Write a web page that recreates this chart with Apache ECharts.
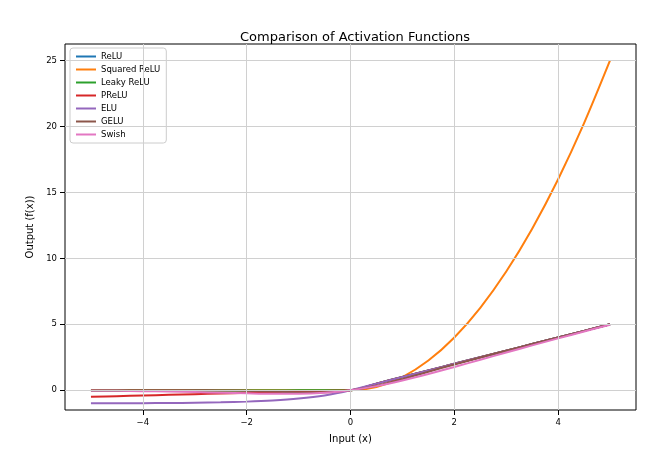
<!DOCTYPE html>
<html>
<head>
<meta charset="utf-8">
<script src="https://cdn.jsdelivr.net/npm/echarts@6/dist/echarts.min.js"></script>
<style>html,body{margin:0;padding:0;background:#fff}#chart{width:664px;height:464px}</style>
</head>
<body>
<div id="chart"></div>
<script>
var xs = [-5,-4.5,-4,-3.5,-3,-2.5,-2,-1.5,-1,-0.5,0,0.5,1,1.5,2,2.5,3,3.5,4,4.5,5];
var relu = [0,0,0,0,0,0,0,0,0,0,0,0.5,1,1.5,2,2.5,3,3.5,4,4.5,5];
var squaredRelu = [0,0,0,0,0,0,0,0,0,0,0,0.25,1,2.25,4,6.25,9,12.25,16,20.25,25];
var leakyRelu = [-0.05,-0.045,-0.04,-0.035,-0.03,-0.025,-0.02,-0.015,-0.01,-0.005,0,0.5,1,1.5,2,2.5,3,3.5,4,4.5,5];
var prelu = [-0.5,-0.45,-0.4,-0.35,-0.3,-0.25,-0.2,-0.15,-0.1,-0.05,0,0.5,1,1.5,2,2.5,3,3.5,4,4.5,5];
var elu = [-0.993,-0.989,-0.982,-0.970,-0.950,-0.918,-0.865,-0.777,-0.632,-0.393,0,0.5,1,1.5,2,2.5,3,3.5,4,4.5,5];
var gelu = [0,0,-0.0001,-0.0008,-0.004,-0.0155,-0.0455,-0.1002,-0.1587,-0.1543,0,0.3457,0.8413,1.3998,1.9545,2.4845,2.996,3.4992,4,4.5,5];
var swish = [-0.0335,-0.0498,-0.0719,-0.1017,-0.1423,-0.1896,-0.2384,-0.2736,-0.2689,-0.1888,0,0.3112,0.7311,1.2264,1.7616,2.3104,2.8577,3.3983,3.9281,4.4502,4.9665];
var xTicks = [-4,-2,0,2,4];
var yTicks = [0,5,10,15,20,25];

var names = ['ReLU','Squared ReLU','Leaky ReLU','PReLU','ELU','GELU','Swish'];
var values = [relu, squaredRelu, leakyRelu, prelu, elu, gelu, swish];
var colors = ['#1f77b4','#ff7f0e','#2ca02c','#d62728','#9467bd','#8c564b','#e377c2'];

function fmt(v) { return v < 0 ? '\u2212' + (-v) : '' + v; }

var gridLines = xTicks.map(function (v) { return {xAxis: v}; })
    .concat(yTicks.map(function (v) { return {yAxis: v}; }));

var series = names.map(function (n, i) {
    return {
        name: n, type: 'line', showSymbol: false, smooth: 0.3, z: 3,
        lineStyle: {width: 2},
        data: xs.map(function (x, j) { return [x, values[i][j]]; })
    };
});
series.push({
    type: 'line', data: [], z: 1,
    markLine: {silent: true, symbol: 'none', label: {show: false},
        lineStyle: {color: '#d0d0d0', type: 'solid', width: 1}, data: gridLines}
});

var chart = echarts.init(document.getElementById('chart'));
chart.setOption({
    color: colors,
    animation: false,
    textStyle: {fontFamily: 'DejaVu Sans'},
    title: {text: 'Comparison of Activation Functions', left: 350, top: 26, textAlign: 'center',
        textStyle: {fontSize: 13, fontWeight: 'normal', color: '#000'}},
    grid: {left: 65, right: 28, top: 44, bottom: 54, show: true, borderColor: '#000', borderWidth: 1},
    legend: {
        data: names, orient: 'vertical', left: 70, top: 48, itemWidth: 20, itemHeight: 2, itemGap: 4,
        icon: 'rect', backgroundColor: '#fff', borderColor: '#ccc', borderWidth: 1, borderRadius: 3,
        padding: [4, 6], textStyle: {fontSize: 8.5, color: '#000'}
    },
    xAxis: {
        type: 'value', min: -5.5, max: 5.5, interval: 0.5,
        name: 'Input (x)', nameLocation: 'middle', nameGap: 24, nameTextStyle: {fontSize: 10, color: '#000'},
        axisLine: {show: false, onZero: false},
        axisTick: {show: true, customValues: xTicks, lineStyle: {color: '#000'}},
        axisLabel: {fontSize: 8.5, color: '#000', customValues: xTicks, formatter: fmt},
        splitLine: {show: false}
    },
    yAxis: {
        type: 'value', min: -1.5, max: 26.25, interval: 0.25,
        name: 'Output (f(x))', nameLocation: 'middle', nameGap: 30, nameTextStyle: {fontSize: 10, color: '#000'},
        axisLine: {show: false, onZero: false},
        axisTick: {show: true, customValues: yTicks, lineStyle: {color: '#000'}},
        axisLabel: {fontSize: 8.5, color: '#000', customValues: yTicks, formatter: fmt},
        splitLine: {show: false}
    },
    series: series
});
</script>
</body>
</html>
